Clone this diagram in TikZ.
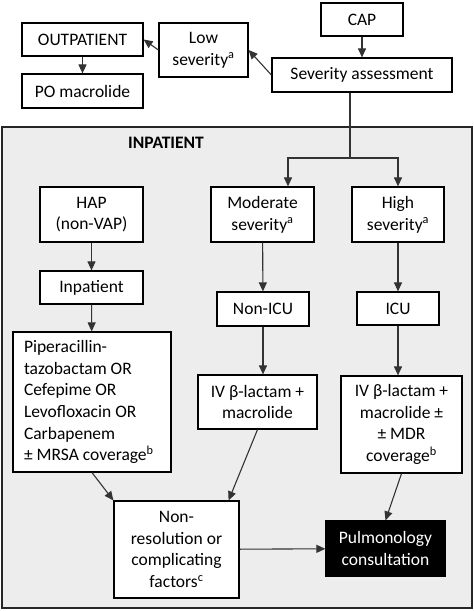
\documentclass[tikz,border=0pt]{standalone}
\usepackage{fontspec}
\setmainfont{Carlito}
\usetikzlibrary{arrows.meta}
\usetikzlibrary{calc}

\begin{document}
\begin{tikzpicture}[x=1pt, y=-1pt]
        % ================= 样式定义 =================
        \tikzset{
            % 方框样式
            box/.style={draw=black, line width=1.2pt, fill=white, align=center, inner sep=0pt, font=\fontsize{17.5}{21.7}\selectfont},
            % 黑色方框 (结论)
            blackbox/.style={box, fill=black, text=white},
            % 住院区域 (灰底)
            region/.style={draw=black!85, line width=2.6pt, fill=black!7, inner sep=0pt},
            % 普通连线
            link/.style={line width=1.1pt, black!80},
            % 箭头
            arr/.style={link, -{Triangle[length=9pt, width=8pt]}}
        }
        \useasboundingbox (0,0) rectangle (474,611);

        % ================= 第一部分:住院区域背景 =================
        \node[region, minimum width=470, minimum height=481] (inpt) at (237, 367.5) {};
        \node[font=\fontsize{17.5}{21.7}\selectfont\bfseries] (inlabel) at (166, 143) {INPATIENT};

        % ================= 第二部分:上方 (评估与门诊) =================
        \node[box, minimum width=82, minimum height=33] (cap) at (362, 19.5) {CAP};
        \node[box, minimum width=180, minimum height=34] (sev) at (362, 75) {Severity assessment};
        \node[box, minimum width=89, minimum height=54] (low) at (203.5, 50) {Low\\severity\textsuperscript{a}};
        \node[box, minimum width=121, minimum height=33] (outp) at (82.5, 39.5) {OUTPATIENT};
        \node[box, minimum width=121, minimum height=34] (po) at (82.5, 91) {PO macrolide};

        % 分叉点
        \coordinate (split) at (350, 158);

        % ================= 第三部分:住院三列 =================
        % --- 左列 HAP ---
        \node[box, minimum width=103, minimum height=55] (hap) at (91.5, 214.5) {HAP\\(non-VAP)};
        \node[box, minimum width=103, minimum height=33] (inp) at (91.5, 287.5) {Inpatient};
        \node[box, align=flush left, text width=136, inner xsep=11, minimum height=140] (pip) at (92, 402)
            {Piperacillin-\\tazobactam OR\\Cefepime OR\\Levofloxacin OR\\Carbapenem\\± MRSA coverage\textsuperscript{b}};

        % --- 中列 中度 ---
        \node[box, minimum width=103, minimum height=55] (mod) at (262.5, 214.5) {Moderate\\severity\textsuperscript{a}};
        \node[box, minimum width=92, minimum height=34] (nonicu) at (263, 309) {Non-ICU};
        \node[box, minimum width=119, minimum height=54] (ivl) at (257.5, 402) {IV β-lactam +\\macrolide};

        % --- 右列 重度 ---
        \node[box, minimum width=92, minimum height=55] (high) at (398, 214.5) {High\\severity\textsuperscript{a}};
        \node[box, minimum width=82, minimum height=33] (icu) at (398, 308.5) {ICU};
        \node[box, minimum width=121, minimum height=97] (ivr) at (401.5, 424.5) {IV β-lactam +\\macrolide ±\\± MDR\\coverage\textsuperscript{b}};

        % --- 底部 ---
        \node[box, minimum width=125, minimum height=97] (nonres) at (176.5, 549.5) {Non-\\resolution or\\complicating\\factors\textsuperscript{c}};
        \node[blackbox, minimum width=119, minimum height=55] (pulm) at (385.5, 548.5) {Pulmonology\\consultation};

        % ================= 连线 =================
        \draw[arr] (cap) -- (sev);
        \draw[arr] (sev.west) -- (low.east);
        \draw[arr] (low.west) -- (outp.east);
        \draw[arr] (outp) -- (po);

        \draw[link] (sev.south -| split) -- (split);
        \draw[arr] (split) -| ([xshift=25.5pt]mod.north);
        \draw[arr] (split) -| (high.north);

        \draw[arr] (hap) -- (inp);
        \draw[arr] (inp) -- (pip);
        \draw[arr] (mod) -- (nonicu);
        \draw[arr] (high) -- (icu);
        \draw[arr] (nonicu.south) -- (nonicu.south |- ivl.north);
        \draw[arr] (icu.south) -- (icu.south |- ivr.north);

        \draw[arr] (pip.south) -- (nonres.north west);
        \draw[arr] (ivl.south) -- ([xshift=-11pt]nonres.north east);
        \draw[arr] (ivr.south) -- (pulm.north);
        \draw[arr] (nonres) -- (pulm);

\end{tikzpicture}
\end{document}
